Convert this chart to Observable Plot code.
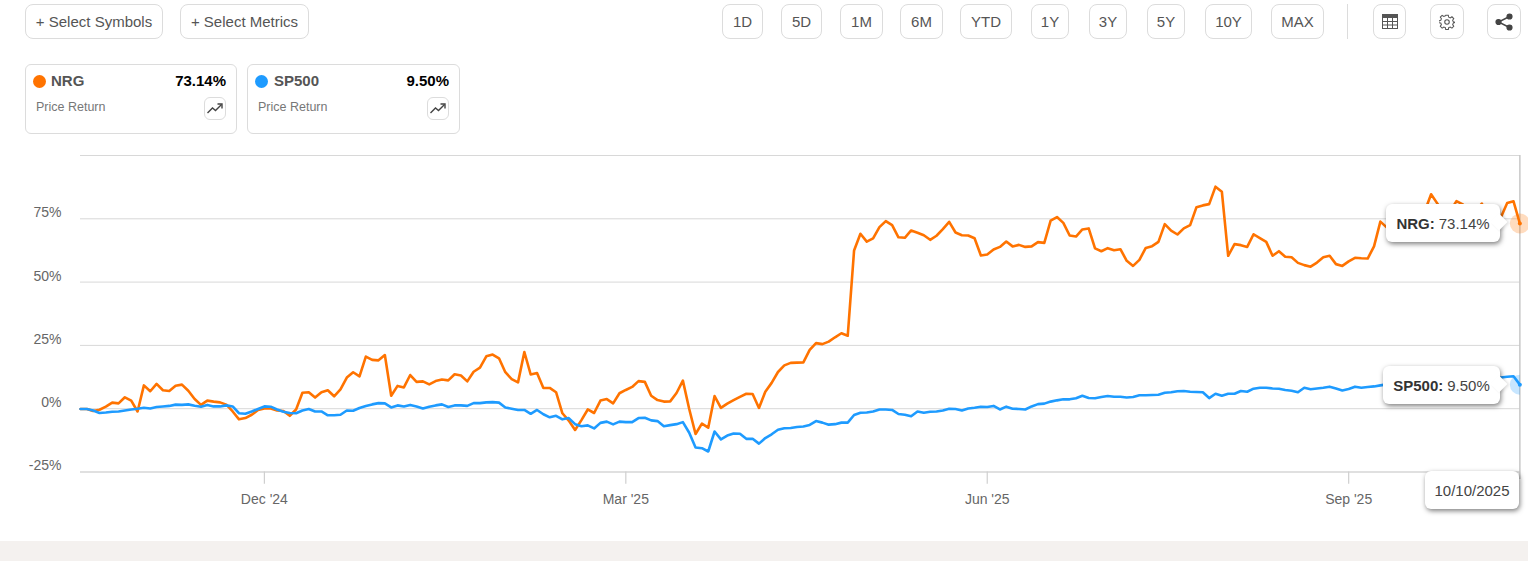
<!DOCTYPE html>
<html>
<head>
<meta charset="utf-8">
<script src="https://cdn.jsdelivr.net/npm/d3@7"></script>
<script src="https://cdn.jsdelivr.net/npm/@observablehq/plot@0.6"></script>
<style>
html,body{margin:0;padding:0;background:#fff;}
body{position:relative;width:1528px;height:561px;overflow:hidden;font-family:"Liberation Sans",Arial,sans-serif;}
#footer{position:absolute;left:0;top:541px;width:1528px;height:20px;background:#f4f1ef;}
#chart{position:absolute;left:0;top:140px;}
#chart svg{overflow:visible;display:block;}
.btn{position:absolute;box-sizing:border-box;top:4px;height:35px;border:1px solid #dcdcdc;border-radius:8px;background:#fff;color:#555;font-size:15px;display:flex;align-items:center;justify-content:center;white-space:nowrap;}
.sep{position:absolute;left:1347px;top:4px;width:1px;height:35px;background:#dcdcdc;}
.card{position:absolute;box-sizing:border-box;top:64px;height:70px;border:1px solid #dcdcdc;border-radius:6px;background:#fff;}
.card .dot{position:absolute;top:10px;left:7px;width:13px;height:13px;border-radius:50%;}
.card .name{position:absolute;top:8px;font-size:15px;font-weight:bold;color:#555;line-height:16px;}
.card .val{position:absolute;top:8px;font-size:15px;font-weight:bold;color:#000;line-height:16px;}
.card .sub{position:absolute;top:35px;font-size:12.5px;color:#777;line-height:14px;}
.card .ico{position:absolute;top:32px;width:22px;height:23px;box-sizing:border-box;border:1px solid #dcdcdc;border-radius:6px;display:flex;align-items:center;justify-content:center;}
.tip{position:absolute;box-sizing:border-box;background:#fff;border-radius:6px;box-shadow:1px 2px 5px rgba(0,0,0,.5);color:#444;font-size:15px;display:flex;align-items:center;justify-content:center;white-space:nowrap;}
.tip b{color:#333;margin-right:4px;}
.arrow{position:absolute;width:12px;height:12px;background:#fff;transform:rotate(45deg);right:-5px;top:12px;box-shadow:2px -1px 3px rgba(0,0,0,.12);}
.tip span{position:relative;z-index:1;}
</style>
</head>
<body>
<div id="footer"></div>
<div id="chart"></div>
<script>
const nrgValues = [
 -0.1,-0.1,-0.9,-0.4,0.8,2.4,2.1,4.5,3.2,-1.1,
 9.2,6.9,9.8,7.3,7.0,9.1,9.5,7.1,3.8,1.5,
 3.2,2.8,2.5,1.6,-1.1,-4.2,-3.7,-2.4,-0.5,0.1,
 0.1,-0.7,-0.9,-2.8,-0.3,6.3,6.5,4.4,6.5,7.3,
 4.9,7.6,12.3,14.4,12.8,20.6,19.3,19.1,21.2,5.1,
 9.0,8.4,13.3,10.6,10.8,9.6,10.9,11.5,11.2,13.6,
 13.1,10.8,14.6,16.2,20.7,21.4,19.9,14.4,11.7,10.4,
 22.4,13.5,14.1,8.2,8.2,6.5,-1.8,-4.7,-8.4,-4.5,
 -0.3,-1.7,3.2,3.8,2.1,6.1,7.4,8.6,10.9,10.6,
 5.1,3.4,2.8,2.9,6.2,11.1,-0.1,-10.0,-5.9,-7.5,
 5.0,0.3,2.0,3.4,4.7,5.9,5.8,0.3,6.7,10.2,
 14.5,17.1,18.1,18.2,18.3,23.2,25.9,25.5,26.5,28.2,
 29.8,28.8,62.5,69.1,66.0,67.3,71.7,74.1,72.5,67.7,
 67.5,70.4,69.5,68.5,66.7,68.3,70.9,73.8,69.6,68.5,
 68.4,67.3,60.5,60.9,62.9,63.9,66.0,64.1,64.7,63.9,
 64.1,65.8,65.5,74.3,75.7,73.4,68.4,68.0,70.8,71.2,
 63.3,62.2,63.4,62.6,63.0,58.4,56.4,58.8,63.5,64.2,
 65.9,72.9,70.3,68.8,71.2,72.5,79.6,80.3,80.8,87.7,
 85.7,60.4,65.0,64.6,63.9,68.9,67.4,65.9,60.4,62.2,
 60.0,59.8,57.6,56.7,56.1,57.7,59.8,60.4,57.1,56.4,
 58.2,59.6,59.4,59.3,64.1,73.9,71.6,71,70,71,
 72,75,78,84.7,81,77,78,82,80.7,78,
 78,81,77,75,75.5,81.2,81.9,73.14
];
const sp500Values = [
 -0.1,-0.1,-0.7,-1.7,-1.5,-1.2,-1.1,-0.7,-0.3,0,
 0.4,0.1,0.7,0.9,1.1,1.6,1.5,1.7,1.2,0.8,
 1.5,0.9,0.9,1.3,0.9,-1.8,-2.0,-1.1,-0.1,0.9,
 0.8,-0.3,-1.2,-1.7,-1.8,-0.7,-0.1,-1.1,-1.1,-2.6,
 -2.6,-2.4,-0.7,-0.8,0.3,1.1,1.7,2.2,2.1,0.5,
 1.3,0.9,1.5,0.9,0.1,0.8,1.3,1.7,0.7,1.3,
 1.3,1.1,2.2,2.2,2.5,2.6,2.4,0.5,0,-0.5,
 -0.5,-2.0,-0.5,-2.2,-3.4,-2.8,-4.2,-3.7,-6.1,-6.9,
 -6.6,-7.8,-5.6,-5.1,-6.2,-5.1,-5.3,-5.3,-3.7,-3.6,
 -4.6,-4.9,-6.9,-6.5,-6.1,-5.3,-9.5,-15.3,-15.6,-16.9,
 -9.0,-12.1,-10.6,-9.8,-9.9,-11.9,-11.9,-13.8,-11.6,-10.1,
 -8.3,-7.7,-7.6,-7.2,-7.0,-6.4,-4.9,-5.5,-6.3,-6.1,
 -5.5,-5.5,-2.5,-1.6,-1.5,-1.1,-0.3,-0.3,-0.5,-2.1,
 -2.4,-3.0,-1.1,-1.6,-1.2,-1.1,-0.7,0,-0.1,-0.7,
 0.1,0.4,0.8,0.7,1.1,-0.3,0.8,0,-0.1,-0.3,
 0.9,1.8,2.0,2.8,3.3,3.7,3.7,4.1,5.1,4.2,
 4.1,4.6,5.0,4.7,4.7,4.4,4.6,5.3,5.3,5.4,
 5.5,6.3,6.5,6.9,7.0,6.7,6.6,6.5,4.2,5.9,
 5.1,5.9,5.9,7.0,6.7,7.9,8.3,8.3,8.0,7.9,
 7.4,7.1,6.5,8.3,7.7,8.0,8.3,8.7,8.0,7.2,
 7.8,8.7,8.3,8.6,8.8,9.2,9.6,9.9,10,10.4,
 10.5,10.2,10.6,10.9,11,11.2,10.9,11.3,11.6,11.4,
 11.8,12,12.1,11.9,12.3,12.6,12.8,9.5
];
const xTickSessions = [29, 86, 143, 200];
const xTickLabels = ["Dec '24", "Mar '25", "Jun '25", "Sep '25"];
const yTicks = [-25, 0, 25, 50, 75];
const yGrid = [-25, 0, 25, 50, 75, 100];
const rangeButtons = ["1D","5D","1M","6M","YTD","1Y","3Y","5Y","10Y","MAX"];
const rangeLeft = [722,781,840,900,960,1031,1089,1147,1205,1271];
const rangeRight = [763,822,883,943,1012,1069,1127,1185,1252,1324];
const NRG_COLOR = "#ff7300", SP_COLOR = "#1e9bff";
const lastDate = "10/10/2025";

const sessions = d3.range(nrgValues.length);
const last = sessions[sessions.length - 1];
const nrgRows = sessions.map(i => ({i, v: nrgValues[i]}));
const spRows = sessions.map(i => ({i, v: sp500Values[i]}));
const font = '"Liberation Sans",Arial,sans-serif';

const plot = Plot.plot({
  width: 1528, height: 380,
  marginTop: 15, marginBottom: 48.5, marginLeft: 80, marginRight: 8,
  style: {fontFamily: font, fontSize: "14px", background: "transparent", overflow: "visible"},
  x: {type: "linear", domain: [0, last + 0.1], label: null},
  y: {domain: [-25, 100], label: null},
  marks: [
    Plot.ruleY(yGrid, {stroke: "#d8d8d8", strokeWidth: 1, strokeOpacity: 1}),
    Plot.ruleY([-25], {stroke: "#dcdcdc", strokeWidth: 1.5}),
    Plot.axisY(yTicks, {anchor: "left", tickSize: 0, tickPadding: 19, dy: -6, label: null,
      tickFormat: d => d + "%", fill: "#666", fontSize: 14}),
    Plot.ruleX(xTickSessions, {y1: -25, y2: -29.8, stroke: "#cfcfcf", strokeWidth: 1.2}),
    Plot.axisX(xTickSessions, {anchor: "bottom", tickSize: 0, tickPadding: 22, label: null,
      tickFormat: d => xTickLabels[xTickSessions.indexOf(d)], fill: "#666", fontSize: 14}),
    Plot.ruleX([last], {y1: -28, y2: 100, stroke: "#c8c8c8", strokeWidth: 1.5}),
    Plot.line(nrgRows, {x: "i", y: "v", stroke: NRG_COLOR, strokeWidth: 2.6, curve: "linear"}),
    Plot.line(spRows, {x: "i", y: "v", stroke: SP_COLOR, strokeWidth: 2.6, curve: "linear"}),
    Plot.dot([nrgRows[last]], {x: "i", y: "v", r: 10, fill: NRG_COLOR, fillOpacity: 0.25}),
    Plot.dot([spRows[last]], {x: "i", y: "v", r: 10, fill: SP_COLOR, fillOpacity: 0.25, clip: true}),
    Plot.dot([nrgRows[last]], {x: "i", y: "v", r: 2, fill: NRG_COLOR}),
    Plot.dot([spRows[last]], {x: "i", y: "v", r: 2, fill: SP_COLOR})
  ]
});
document.getElementById("chart").append(plot);

// ---- page furniture above the chart ----
function el(cls, style, html, parent) {
  const d = document.createElement("div");
  d.className = cls; d.style.cssText = style; if (html) d.innerHTML = html;
  (parent || document.body).append(d); return d;
}
el("btn", "left:25px;width:138px;", "+ Select Symbols");
el("btn", "left:180px;width:129px;", "+ Select Metrics");
rangeButtons.forEach((t, k) => el("btn", `left:${rangeLeft[k]}px;width:${rangeRight[k]-rangeLeft[k]}px;`, t));
el("sep", "");
el("btn", "left:1373px;width:33px;", `<svg width="16" height="15" viewBox="0 0 16 15"><rect x="0.5" y="0.5" width="15" height="14" fill="none" stroke="#555"/><rect x="0" y="0" width="16" height="4" fill="#555"/><path d="M5.5 4V15M10.5 4V15M0 7.5H16M0 11H16" stroke="#555" fill="none"/></svg>`);
el("btn", "left:1430px;width:34px;", `<svg width="16" height="16" viewBox="0 0 24 24" fill="none" stroke="#555" stroke-width="1.6"><circle cx="12" cy="12" r="3.4"/><path d="M10 2h4l.6 3 2.4 1 2.6-1.700 2.800 2.800-1.700 2.600 1 2.400 3 .6v0l-3 1.300-1 2.400 1.700 2.600-2.800 2.800-2.600-1.700-2.400 1-.6 3h-4l-.6-3-2.400-1-2.600 1.700-2.800-2.800 1.700-2.600-1-2.400-3-.6v-3l3-.6 1-2.400-1.700-2.600 2.800-2.800 2.600 1.700 2.400-1z" transform="translate(0.4 0) scale(.97)"/></svg>`);
el("btn", "left:1487px;width:34px;", `<svg width="18" height="18" viewBox="0 0 18 18" fill="#444" stroke="#444" stroke-width="1.4"><circle cx="14.500" cy="3.500" r="2.400"/><circle cx="14.500" cy="14.500" r="2.400"/><circle cx="3.500" cy="9" r="2.400"/><path d="M14.500 3.500L3.500 9L14.500 14.500" fill="none"/></svg>`);

const trendIcon = `<svg width="16" height="11" viewBox="0 0 16 11" fill="none" stroke="#444" stroke-width="1.4"><path d="M0.500 10L5.500 5L8.500 7.500L14.500 1.500"/><path d="M10.500 1H15V5.500"/></svg>`;
function card(left, width, color, name, value) {
  const c = el("card", `left:${left}px;width:${width}px;`);
  el("dot", `background:${color};`, "", c);
  el("name", `left:${name === "NRG" ? 25 : 26}px;`, name, c);
  el("val", "right:10px;", value, c);
  el("sub", "left:10px;", "Price Return", c);
  el("ico", "right:10px;", trendIcon, c);
}
card(25, 212, NRG_COLOR, "NRG", nrgValues[last].toFixed(2) + "%");
card(247, 213, SP_COLOR, "SP500", sp500Values[last].toFixed(2) + "%");

el("tip", "left:1386px;top:204px;width:114px;height:38px;", `<div class="arrow"></div><span><b>NRG:</b>${nrgValues[last].toFixed(2)}%</span>`);
el("tip", "left:1383px;top:366px;width:117px;height:38px;", `<div class="arrow"></div><span><b>SP500:</b>${sp500Values[last].toFixed(2)}%</span>`);
el("tip", "left:1425px;top:471px;width:94px;height:38px;", `<span>${lastDate}</span>`);
</script>
</body>
</html>
